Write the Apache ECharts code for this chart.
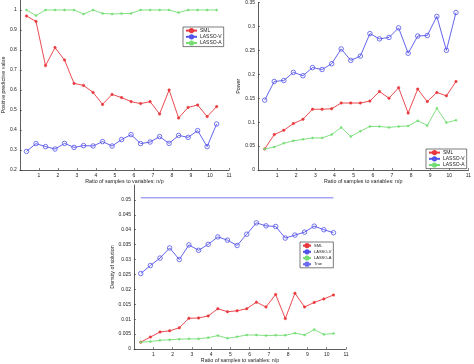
<!DOCTYPE html>
<html><head><meta charset="utf-8">
<script src="https://cdn.jsdelivr.net/npm/echarts@6/dist/echarts.min.js"></script>
<style>html,body{margin:0;padding:0;background:#fff}#c{width:474px;height:364px}</style>
</head><body><div id="c"></div>
<script>
const ratio = [0.35,0.85,1.35,1.85,2.35,2.85,3.35,3.85,4.35,4.85,5.35,5.85,6.35,6.85,7.35,7.85,8.35,8.85,9.35,9.85,10.35];
const xTicks = [1,2,3,4,5,6,7,8,9,10,11];
// Positive predictive value
const ppvSML    = [0.970,0.943,0.722,0.812,0.750,0.633,0.623,0.588,0.528,0.578,0.562,0.542,0.532,0.542,0.480,0.600,0.460,0.513,0.525,0.467,0.517];
const ppvLassoV = [0.293,0.332,0.317,0.305,0.333,0.313,0.322,0.320,0.342,0.320,0.352,0.377,0.332,0.340,0.367,0.333,0.373,0.363,0.397,0.317,0.430];
const ppvLassoA = [1.000,0.972,1.000,1.000,1.000,1.000,0.980,1.000,0.983,0.980,0.982,0.983,1.000,1.000,1.000,1.000,0.987,1.000,1.000,1.000,1.000];
// Power
const powSML    = [0.044,0.074,0.083,0.097,0.106,0.127,0.127,0.128,0.140,0.140,0.140,0.144,0.164,0.150,0.172,0.119,0.169,0.143,0.162,0.155,0.185];
const powLassoV = [0.146,0.185,0.187,0.204,0.197,0.214,0.210,0.222,0.253,0.229,0.238,0.285,0.274,0.277,0.297,0.244,0.280,0.281,0.321,0.250,0.329];
const powLassoA = [0.044,0.048,0.056,0.061,0.064,0.067,0.067,0.074,0.089,0.070,0.081,0.091,0.091,0.089,0.091,0.092,0.103,0.093,0.129,0.099,0.104];
// Density of solution
const denSML    = [0.0023,0.0040,0.0057,0.0061,0.0071,0.0103,0.0104,0.0111,0.0135,0.0125,0.0128,0.0135,0.0157,0.0141,0.0183,0.0102,0.0187,0.0141,0.0156,0.0168,0.0181];
const denLassoV = [0.0253,0.0280,0.0305,0.0339,0.0300,0.0349,0.0331,0.0351,0.0376,0.0365,0.0347,0.0385,0.0423,0.0413,0.0411,0.0372,0.0382,0.0392,0.0412,0.0400,0.0390];
const denLassoA = [0.0023,0.0025,0.0029,0.0031,0.0033,0.0034,0.0034,0.0038,0.0045,0.0036,0.0041,0.0047,0.0047,0.0045,0.0046,0.0046,0.0053,0.0047,0.0065,0.0049,0.0052];
const denTrue   = [0.0507,0.0507];
const trueX     = [0.35,10.35];

const RED='#e8383d', BLUE='#5252ea', GREEN='#74de74', TBLUE='#6b6bef';
const FONT='Liberation Sans, Arial, sans-serif';
const pair = (xs, ys) => xs.map((x,i)=>[x, ys[i]]);
const txt = {fontFamily:FONT, fontSize:5, color:'#222'};
const nameTxt = {fontFamily:FONT, fontSize:5.3, color:'#222'};

function xAxis(gi){
  return {type:'value', gridIndex:gi, min:0, max:11, interval:1,
    name:'Ratio of samples to variables: n/p', nameLocation:'middle', nameGap:9,
    nameTextStyle:nameTxt,
    axisLine:{lineStyle:{color:'#333', width:0.8}},
    axisTick:{inside:true, length:2, lineStyle:{color:'#333', width:0.6}},
    axisLabel:Object.assign({margin:3, showMinLabel:false, showMaxLabel:true}, txt),
    splitLine:{show:false}};
}
function yAxis(gi, name, min, max, interval, nameGap, showMax){
  return {type:'value', gridIndex:gi, min:min, max:max, interval:interval,
    name:name, nameLocation:'middle', nameGap:nameGap,
    nameTextStyle:nameTxt,
    axisLine:{show:true, lineStyle:{color:'#333', width:0.8}},
    axisTick:{show:true, inside:true, length:2, lineStyle:{color:'#333', width:0.6}},
    axisLabel:Object.assign({margin:3, showMaxLabel:showMax}, txt),
    splitLine:{show:false}};
}
function line(name, gi, data, color, symbol, size, hollow){
  return {type:'line', name:name, xAxisIndex:gi, yAxisIndex:gi, data:data,
    symbol:symbol, symbolSize:size, animation:false,
    lineStyle:{color:color, width:0.9},
    itemStyle: hollow ? {color:'rgba(255,255,255,0)', borderColor:color, borderWidth:0.8}
                      : {color:color, borderColor:color, borderWidth:0.5},
    emphasis:{disabled:true}};
}
function legend(left, top, names, fs, iw){
  return {show:true, left:left, top:top, orient:'vertical', data:names,
    itemWidth:iw, itemHeight:4, itemGap:1, padding:[1,2,1,2],
    borderColor:'#222', borderWidth:0.6, backgroundColor:'#fff',
    textStyle:{fontFamily:FONT, fontSize:fs, color:'#222', padding:[0,0,0,-2]}, selectedMode:false};
}

const chart = echarts.init(document.getElementById('c'), null, {renderer:'canvas'});
chart.setOption({
  backgroundColor:'#fff',
  animation:false,
  grid:[
    {left:13, top:0, width:216, height:170},
    {left:258, top:2, width:212, height:168},
    {left:134, top:185, width:212, height:166}
  ],
  xAxis:[xAxis(0), xAxis(1), xAxis(2)],
  yAxis:[
    yAxis(0,'Positive predictive value',0.2,1.05,0.1,8,false),
    yAxis(1,'Power',0,0.35,0.05,13,true),
    yAxis(2,'Density of solution',0,0.055,0.005,14,false)
  ],
  legend:[
    legend(183,27,['SML','LASSO-V','LASSO-A'],5,11),
    legend(426,149,['SML','LASSO-V','LASSO-A'],5,11),
    legend(300,242,['SML','LASSO-V','LASSO-A','True'],4,8)
  ],
  series:[
    line('SML',0,pair(ratio,ppvSML),RED,'circle',2.5,false),
    line('LASSO-V',0,pair(ratio,ppvLassoV),BLUE,'circle',4.5,true),
    line('LASSO-A',0,pair(ratio,ppvLassoA),GREEN,'circle',2,false),
    line('SML',1,pair(ratio,powSML),RED,'circle',2.5,false),
    line('LASSO-V',1,pair(ratio,powLassoV),BLUE,'circle',4.5,true),
    line('LASSO-A',1,pair(ratio,powLassoA),GREEN,'circle',2,false),
    line('SML',2,pair(ratio,denSML),RED,'circle',2.5,false),
    line('LASSO-V',2,pair(ratio,denLassoV),BLUE,'circle',4.5,true),
    line('LASSO-A',2,pair(ratio,denLassoA),GREEN,'circle',2,false),
    line('True',2,pair(trueX,denTrue),TBLUE,'none',0,false)
  ]
});
</script></body></html>
